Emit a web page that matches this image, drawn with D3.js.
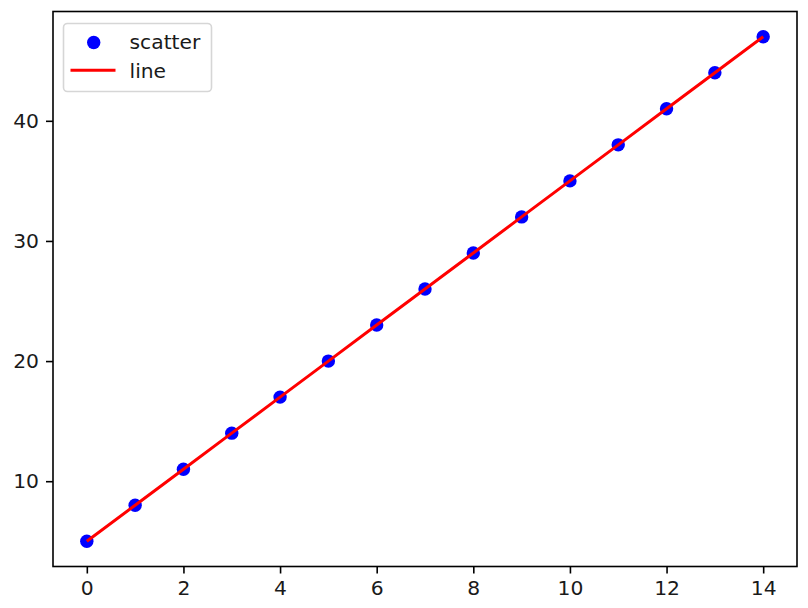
<!DOCTYPE html>
<html><head><meta charset="utf-8">
<script src="https://cdn.jsdelivr.net/npm/d3@7"></script>
<style>body{margin:0;background:#fff}svg{display:block}text{font-family:"DejaVu Sans",sans-serif}</style>
</head><body><svg id="c" width="808" height="608"></svg>
<script>
const xValues = [0,1,2,3,4,5,6,7,8,9,10,11,12,13,14];
const yValues = [5,8,11,14,17,20,23,26,29,32,35,38,41,44,47];
const xTicks = [0,2,4,6,8,10,12,14];
const yTicks = [10,20,30,40];
const legendLabels = ["scatter","line"];

const svg = d3.select("#c");
const L=53, R=797, T=11.5, B=566.5;
const x = d3.scaleLinear().domain([-0.7,14.7]).range([L,R]);
const y = d3.scaleLinear().domain([2.9,49.1]).range([B,T]);
const fs = 20.3;
const tc = "#1a1a1a";

const gx = svg.append("g").attr("transform",`translate(0,${B})`)
  .call(d3.axisBottom(x).tickValues(xTicks).tickSize(7).tickPadding(7).tickFormat(d3.format("d")));
const gy = svg.append("g").attr("transform",`translate(${L},0)`)
  .call(d3.axisLeft(y).tickValues(yTicks).tickSize(7).tickPadding(7).tickFormat(d3.format("d")));
[gx,gy].forEach(g=>{
  g.select(".domain").remove();
  g.selectAll(".tick line").attr("stroke","#000").attr("stroke-width",1.6);
  g.selectAll(".tick text").attr("fill",tc).style("font-size",fs+"px").style("font-family","DejaVu Sans");
});

// scatter
svg.append("g").selectAll("circle").data(xValues).join("circle")
  .attr("cx",(d)=>x(d)).attr("cy",(d,i)=>y(yValues[i])).attr("r",6.7).attr("fill","#0000ff");
// line
svg.append("path").datum(xValues.map((v,i)=>[v,yValues[i]]))
  .attr("d", d3.line().x(d=>x(d[0])).y(d=>y(d[1])))
  .attr("fill","none").attr("stroke","#ff0000").attr("stroke-width",3);

// frame
svg.append("rect").attr("x",L).attr("y",T).attr("width",R-L).attr("height",B-T)
  .attr("fill","none").attr("stroke","#000").attr("stroke-width",1.6);

// legend
const lg = svg.append("g");
lg.append("rect").attr("x",63.5).attr("y",23.5).attr("width",148).attr("height",68).attr("rx",4)
  .attr("fill","#fff").attr("fill-opacity",0.8).attr("stroke","#d6d6d6").attr("stroke-width",1.6);
lg.append("circle").attr("cx",93.7).attr("cy",42.5).attr("r",6.7).attr("fill","#0000ff");
lg.append("line").attr("x1",70.5).attr("x2",115.5).attr("y1",70.3).attr("y2",70.3).attr("stroke","#ff0000").attr("stroke-width",3);
lg.selectAll("text.lab").data(legendLabels).join("text").attr("class","lab")
  .attr("x",129.5).attr("y",(d,i)=>49+i*29).text(d=>d).style("font-size",fs+"px").attr("fill",tc);
</script></body></html>
